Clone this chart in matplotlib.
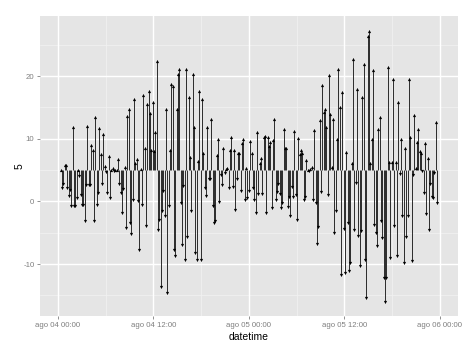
import matplotlib
matplotlib.use('Agg')
import matplotlib.pyplot as plt
import pandas as pd
import numpy as np

# ── Data (~10 min sampling) ───────────────────────────────────────────────────
base_level = 5.0
values = [
    5.0, 2.2, 2.8, 5.8, 5.8, 2.1, 0.9, 1.8, -0.7, 11.8, -0.7, -0.8, 0.5, 5.0, 4.0,
    1.0, -0.5, -0.6, -3.1, 2.6, 12.0, 2.6, 2.6, 9.0, 8.2, -3.2, 13.5, -0.6, 1.3,
    11.7, 7.5, 2.7, 10.8, 5.6, 4.7, 1.3, 7.3, 0.6, 5.0, 5.3, 4.9, 5.0, 5.0, 6.8,
    2.8, 1.3, -1.9, 2.0, 5.5, -4.3, 13.7, 14.8, -3.5, -5.2, 0.2, 16.3, 6.2, 6.8,
    0.1, -7.8, 5.1, -0.6, 17.0, 8.6, -4.0, 15.5, 17.6, 14.1, 8.2, 15.9, 8.1, 11.0,
    22.4,
    -4.6, -3.0, -13.7, -1.6, 1.6, -2.4, 14.8, -14.6, -0.7, 8.2, 18.7, 18.4, -7.8,
    -8.8, 14.8, 20.4, 21.1, -0.3, -7.0, 2.4, -9.3, 21.2, -5.7, 16.7, 7.1, -1.6,
    20.4, 11.9, -8.3, -9.4,
    6.5, 17.7, -9.4, 16.3, 7.7, 2.1, 0.9, 11.9, 3.5, 3.5, 13.1, -0.7, -3.4, -3.2,
    7.4, 10.0, -0.1, 4.2, 2.6, 8.5, 4.6, 5.1, 5.3, 2.1, 8.2, 10.3, 2.3, 8.2, -1.4,
    3.5, 7.8, 7.8, 1.7, 9.3, 9.9, 0.3, 5.3, 0.5, 1.7, 9.6, 7.7, 2.2, 0.2, -1.9,
    11.0, 1.2, 6.2, 7.0, 1.2, 10.3, 10.5, -1.8, 10.3, 8.8, 9.5, -1.1, 9.8, 13.1,
    0.2, 1.5, 2.8, 1.2, -1.1, -0.2, 11.6, 8.6, 8.5, -0.9, 0.7, -2.3, 2.3, 0.7,
    11.3, 1.0, -3.0, 10.2, 7.6, 8.2, 7.8, 0.3, 0.7, 6.6, 5.0, 4.9, 5.1, 5.5, 0.3,
    11.4, -0.2, -6.8, -4.1, 13.0, 1.5, 18.6, 14.3, 14.7, 11.8, 1.0, 20.2, 13.9,
    5.5, 13.1, -5.0, -1.6, 10.0, 21.1, 15.0, -11.8, 17.5, -4.4, -11.4, 7.9,
    -3.4, -11.1, -9.9, 6.2, 22.7, -4.6, 2.9, 18.0, -5.5, -10.3, -4.8, 16.7, 22.0,
    -9.3, -15.5, 26.4, 27.2, 6.1, 9.9, 20.9, -3.8, -5.1, -7.2, 11.6,
    13.4, -3.2, -5.9, -12.3, -16.0, -12.3, 21.5, 6.3, -9.1, 6.3, 19.5, -4.0, 6.3,
    -8.8, 15.9, 4.4, 9.9, -2.4, -9.9, 8.5, -5.7, -2.4, 19.5, 10.3, -9.5, 4.2,
    13.8, 5.4, 9.5, 11.5, 8.1, 7.7, 4.9, 1.3, 9.4, -2.0, 6.9, -4.6, 2.8, 0.7, 0.5,
    4.6, 12.6, -0.3,
]
times = pd.date_range('2013-08-04 00:20', '2013-08-05 23:40', periods=len(values))

tick_times = pd.to_datetime(['2013-08-04 00:00', '2013-08-04 12:00', '2013-08-05 00:00',
                             '2013-08-05 12:00', '2013-08-06 00:00'])
tick_labels = ['ago 04 00:00', 'ago 04 12:00', 'ago 05 00:00', 'ago 05 12:00', 'ago 06 00:00']
minor_times = pd.to_datetime(['2013-08-04 06:00', '2013-08-04 18:00',
                              '2013-08-05 06:00', '2013-08-05 18:00'])
y_ticks = [-10, 0, 10, 20]
y_minor = [-15, -5, 5, 15, 25]

# ── Style (ggplot2 grey theme) ────────────────────────────────────────────────
PANEL_BG = '#E5E5E5'
MINOR    = '#F2F2F2'
TICK_COL = '#7F7F7F'
plt.rcParams['font.family'] = ['Liberation Sans', 'DejaVu Sans']

fig = plt.figure(figsize=(4.74, 3.52), dpi=100, facecolor='white')
ax = fig.add_axes([0.0844, 0.1023, 0.8818, 0.8522])
ax.set_facecolor(PANEL_BG)
for s in ax.spines.values():
    s.set_visible(False)

# grid
for t in minor_times:
    ax.axvline(t, color=MINOR, lw=0.5, zorder=0)
for y in y_minor:
    ax.axhline(y, color=MINOR, lw=0.5, zorder=0)
for t in tick_times:
    ax.axvline(t, color='white', lw=1.0, zorder=0)
for y in y_ticks:
    ax.axhline(y, color='white', lw=1.0, zorder=0)

# segments with arrow heads at the value end
vals = np.array(values)
ax.vlines(times, base_level, vals, color='#2b2b2b', lw=0.7, zorder=2)
up = vals >= base_level
ax.plot(times[up], vals[up], '^', color='black', ms=2.3, mew=0, zorder=3)
ax.plot(times[~up], vals[~up], 'v', color='black', ms=2.3, mew=0, zorder=3)

# limits
ax.set_xlim(pd.Timestamp('2013-08-04 00:00') - pd.Timedelta(hours=2.26),
            pd.Timestamp('2013-08-04 00:00') + pd.Timedelta(hours=50.3))
ax.set_ylim(-18.3, 29.6)

ax.set_xticks(tick_times)
ax.set_xticklabels(tick_labels)
ax.set_yticks(y_ticks)
ax.set_yticklabels([str(v) for v in y_ticks])
ax.tick_params(axis='both', colors=TICK_COL, labelcolor=TICK_COL, labelsize=5.6,
               length=2.5, width=0.6, pad=1.5)

ax.set_xlabel('datetime', fontsize=7.5)
ax.set_ylabel('5', fontsize=7.5)
ax.xaxis.set_label_coords(0.5, -0.053)
ax.yaxis.set_label_coords(-0.036, 0.5)

plt.savefig('out.png', dpi=100, facecolor='white')
